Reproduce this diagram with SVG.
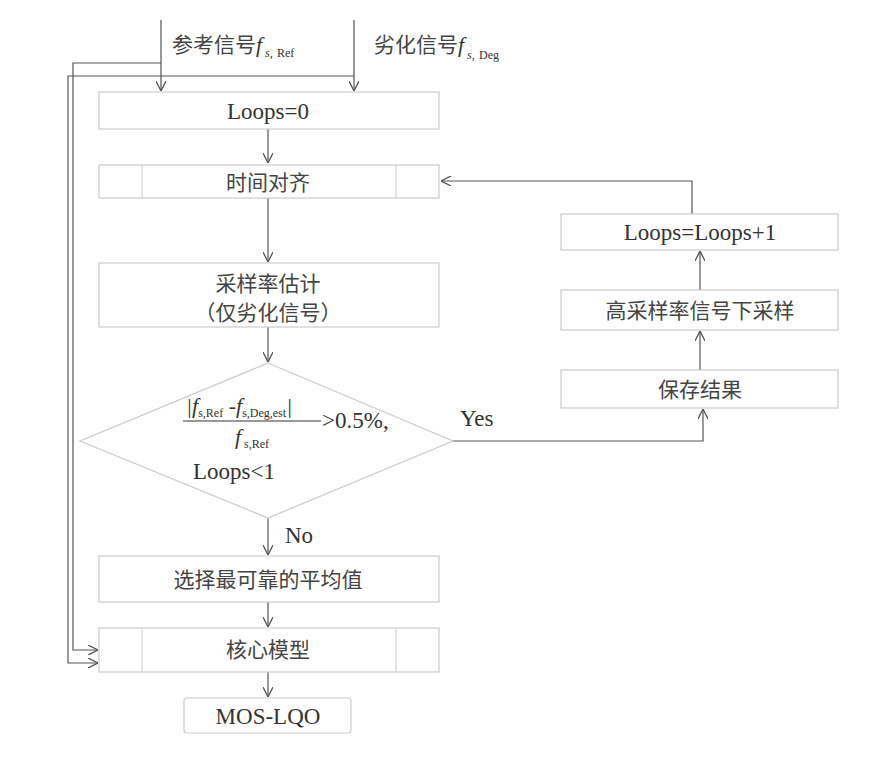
<svg xmlns="http://www.w3.org/2000/svg" width="876" height="762" viewBox="0 0 876 762">
<style>
.b{fill:#fff;stroke:#ccc;stroke-width:1.2}
.il{stroke:#ccc;stroke-width:1}
.c{fill:none;stroke:#555;stroke-width:1.2}
.t{font-family:"Liberation Serif","Noto Sans CJK SC",serif;font-size:23px;fill:#333}
.z{font-family:"Noto Sans CJK SC",sans-serif;font-size:21px;fill:#444}
.s{font-family:"Liberation Serif",serif;font-size:12px;fill:#333}
.fi{font-family:"Liberation Serif",serif;font-style:italic;font-size:22px;fill:#333}
</style>
<defs><marker id="a" viewBox="0 0 10 10" refX="10" refY="5" markerWidth="10" markerHeight="10" markerUnits="userSpaceOnUse" orient="auto"><path d="M0,0L10,5L0,10" fill="none" stroke="#555" stroke-width="1.3"/></marker></defs>
<rect width="876" height="762" fill="#fff"/>
<g id="connectors" class="c" marker-end="url(#a)">
<path d="M161,20V91"/>
<path d="M354,20V91"/>
<path d="M161,63H73V650H98"/>
<path d="M354,76H68V663H98"/>
<path d="M268,129V163"/>
<path d="M268,197V262"/>
<path d="M268,327V362"/>
<path d="M453,441H703V409"/>
<path d="M700,370V331"/>
<path d="M700,290V251"/>
<path d="M692,214V181H441"/>
<path d="M268,518V555"/>
<path d="M268,602V627"/>
<path d="M268,672V697"/>
</g>
<g id="labels">
<text class="z" x="172" y="52">参考信号</text><text class="fi" x="256" y="52">f</text><text class="s" x="265" y="57" font-style="italic">s,</text><text class="s" x="277" y="57">Ref</text>
<text class="z" x="374" y="52">劣化信号</text><text class="fi" x="458" y="52">f</text><text class="s" x="467" y="59" font-style="italic">s,</text><text class="s" x="479" y="59">Deg</text>
<text class="t" x="460" y="426">Yes</text>
<text class="t" x="285" y="543">No</text>
</g>
<g id="n1"><rect class="b" x="99" y="92" width="340" height="37"/><text class="t" x="268" y="119" text-anchor="middle">Loops=0</text></g>
<g id="n2"><rect class="b" x="99" y="165" width="340" height="33"/><line class="il" x1="142" y1="165" x2="142" y2="198"/><line class="il" x1="396" y1="165" x2="396" y2="198"/><text class="z" x="268" y="190" text-anchor="middle">时间对齐</text></g>
<g id="n3"><rect class="b" x="99" y="263" width="340" height="64"/><text class="z" x="268" y="291" text-anchor="middle">采样率估计</text><text class="z" x="268" y="320" text-anchor="middle">（仅劣化信号）</text></g>
<g id="n4"><path class="b" d="M268,363L453,441L268,518L80,441Z"/>
<text x="186" y="413"><tspan class="fi">|f</tspan><tspan class="s" dy="4">s,Ref</tspan><tspan class="fi" dy="-4"> -f</tspan><tspan class="s" dy="4">s,Deg,est</tspan><tspan class="fi" dy="-4">|</tspan></text>
<line x1="183" y1="421" x2="321" y2="421" stroke="#333" stroke-width="1"/>
<text class="t" x="322" y="428">&gt;0.5%,</text>
<text class="fi" x="235" y="444">f</text><text class="s" x="244" y="448">s,Ref</text>
<text class="t" x="193" y="479">Loops&lt;1</text></g>
<g id="n5"><rect class="b" x="561" y="370" width="277" height="38"/><text class="z" x="700" y="397" text-anchor="middle">保存结果</text></g>
<g id="n6"><rect class="b" x="561" y="290" width="277" height="40"/><text class="z" x="700" y="318" text-anchor="middle">高采样率信号下采样</text></g>
<g id="n7"><rect class="b" x="561" y="214" width="277" height="36"/><text class="t" x="700" y="240" text-anchor="middle">Loops=Loops+1</text></g>
<g id="n8"><rect class="b" x="99" y="556" width="340" height="46"/><text class="z" x="268" y="587" text-anchor="middle">选择最可靠的平均值</text></g>
<g id="n9"><rect class="b" x="99" y="628" width="340" height="44"/><line class="il" x1="142" y1="628" x2="142" y2="672"/><line class="il" x1="396" y1="628" x2="396" y2="672"/><text class="z" x="268" y="657" text-anchor="middle">核心模型</text></g>
<g id="n10"><rect class="b" x="184" y="698" width="167" height="35" rx="3"/><text class="t" x="268" y="724" text-anchor="middle">MOS-LQO</text></g>
</svg>
